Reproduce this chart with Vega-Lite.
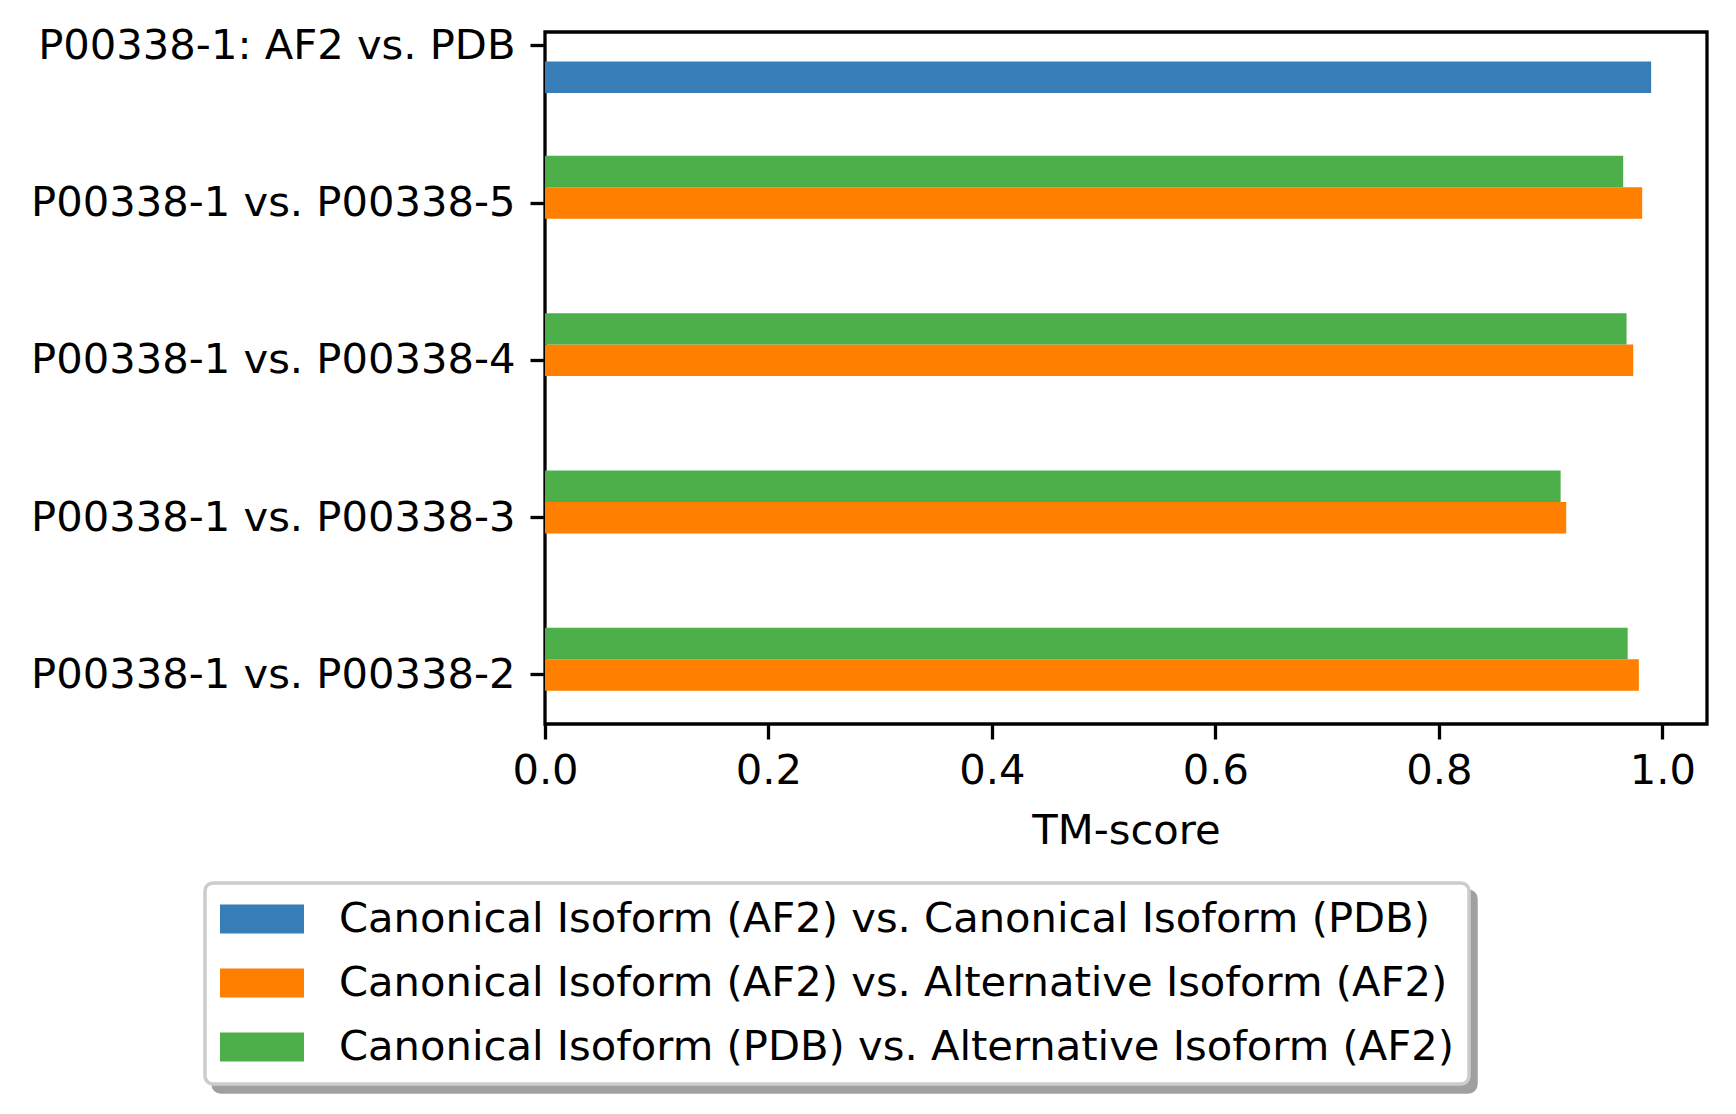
{
  "$schema": "https://vega.github.io/schema/vega-lite/v6.json",
  "autosize": {"type": "none"},
  "padding": {"left": 545, "top": 32, "right": 29, "bottom": 390},
  "width": 1162,
  "height": 692,
  "background": "white",
  "config": {
    "font": "DejaVu Sans",
    "view": {"stroke": "black", "strokeWidth": 3.3},
    "axis": {
      "labelFont": "DejaVu Sans",
      "labelFontSize": 41.67,
      "labelColor": "black",
      "titleFont": "DejaVu Sans",
      "titleFontSize": 41.67,
      "titleFontWeight": "normal",
      "titleColor": "black",
      "tickColor": "black",
      "tickWidth": 3.3,
      "tickSize": 15,
      "domain": false,
      "grid": false
    },
    "legend": {
      "labelFont": "DejaVu Sans",
      "labelFontSize": 41.67,
      "labelColor": "black",
      "labelLimit": 3000,
      "strokeWidth": 3.5
    }
  },
  "data": {
    "values": [
      {"pair": "P00338-1: AF2 vs. PDB", "series": "Canonical Isoform (AF2) vs. Canonical Isoform (PDB)", "tm": 0.990},
      {"pair": "P00338-1 vs. P00338-5", "series": "Canonical Isoform (AF2) vs. Alternative Isoform (AF2)", "tm": 0.982},
      {"pair": "P00338-1 vs. P00338-5", "series": "Canonical Isoform (PDB) vs. Alternative Isoform (AF2)", "tm": 0.965},
      {"pair": "P00338-1 vs. P00338-4", "series": "Canonical Isoform (AF2) vs. Alternative Isoform (AF2)", "tm": 0.974},
      {"pair": "P00338-1 vs. P00338-4", "series": "Canonical Isoform (PDB) vs. Alternative Isoform (AF2)", "tm": 0.968},
      {"pair": "P00338-1 vs. P00338-3", "series": "Canonical Isoform (AF2) vs. Alternative Isoform (AF2)", "tm": 0.914},
      {"pair": "P00338-1 vs. P00338-3", "series": "Canonical Isoform (PDB) vs. Alternative Isoform (AF2)", "tm": 0.909},
      {"pair": "P00338-1 vs. P00338-2", "series": "Canonical Isoform (AF2) vs. Alternative Isoform (AF2)", "tm": 0.979},
      {"pair": "P00338-1 vs. P00338-2", "series": "Canonical Isoform (PDB) vs. Alternative Isoform (AF2)", "tm": 0.969}
    ]
  },
  "encoding": {
    "x": {
      "field": "tm",
      "type": "quantitative",
      "scale": {"domain": [0, 1.04], "nice": false, "zero": true},
      "axis": {
        "title": "TM-score",
        "values": [0, 0.2, 0.4, 0.6, 0.8, 1.0],
        "format": ".1f",
        "labelPadding": 11,
        "titlePadding": 19,
        "labelFlush": false
      }
    },
    "y": {
      "field": "pair",
      "type": "nominal",
      "sort": ["P00338-1: AF2 vs. PDB", "P00338-1 vs. P00338-5", "P00338-1 vs. P00338-4", "P00338-1 vs. P00338-3", "P00338-1 vs. P00338-2"],
      "scale": {"range": [-64.95, 721.65], "paddingInner": 0, "paddingOuter": 0},
      "axis": {"title": null, "labelPadding": 15, "labelLimit": 3000}
    },
    "yOffset": {
      "field": "series",
      "type": "nominal",
      "scale": {
        "domain": ["Canonical Isoform (PDB) vs. Alternative Isoform (AF2)", "Canonical Isoform (AF2) vs. Alternative Isoform (AF2)", "Canonical Isoform (AF2) vs. Canonical Isoform (PDB)"],
        "paddingInner": 0,
        "paddingOuter": 1
      }
    }
  },
  "layer": [
    {
      "mark": {"type": "bar", "orient": "horizontal", "opacity": 0},
      "encoding": {
        "color": {
          "field": "series",
          "type": "nominal",
          "scale": {
            "domain": ["Canonical Isoform (AF2) vs. Canonical Isoform (PDB)", "Canonical Isoform (AF2) vs. Alternative Isoform (AF2)", "Canonical Isoform (PDB) vs. Alternative Isoform (AF2)"],
            "range": ["#999999", "#999999", "#999999"]
          },
          "legend": {
            "title": null,
            "orient": "none",
            "legendX": -332,
            "legendY": 859,
            "direction": "vertical",
            "columns": 1,
            "padding": 15,
            "strokeColor": "#a0a0a0",
            "cornerRadius": 8,
            "fillColor": "#a0a0a0",
            "labelExpr": "''",
            "symbolType": "M-2,-0.69H2V0.69H-2Z",
            "symbolSize": 1764,
            "symbolStrokeWidth": 0,
            "symbolOpacity": 0,
            "symbolOffset": 21,
            "labelOffset": 1170,
            "rowPadding": 21
          }
        }
      }
    },
    {
      "mark": {"type": "bar", "orient": "horizontal"},
      "encoding": {
        "color": {
          "field": "series",
          "type": "nominal",
          "scale": {
            "domain": ["Canonical Isoform (AF2) vs. Canonical Isoform (PDB)", "Canonical Isoform (AF2) vs. Alternative Isoform (AF2)", "Canonical Isoform (PDB) vs. Alternative Isoform (AF2)"],
            "range": ["#377eb8", "#ff7f00", "#4daf4a"]
          },
          "legend": {
            "title": null,
            "orient": "none",
            "legendX": -340,
            "legendY": 851,
            "direction": "vertical",
            "columns": 1,
            "padding": 15,
            "strokeColor": "#cccccc",
            "cornerRadius": 8,
            "fillColor": "white",
            "symbolType": "M-2,-0.69H2V0.69H-2Z",
            "symbolSize": 1764,
            "symbolStrokeWidth": 0,
            "symbolOpacity": 1,
            "symbolOffset": 21,
            "labelOffset": 56,
            "rowPadding": 21
          }
        }
      }
    }
  ],
  "resolve": {"scale": {"color": "independent"}}
}
